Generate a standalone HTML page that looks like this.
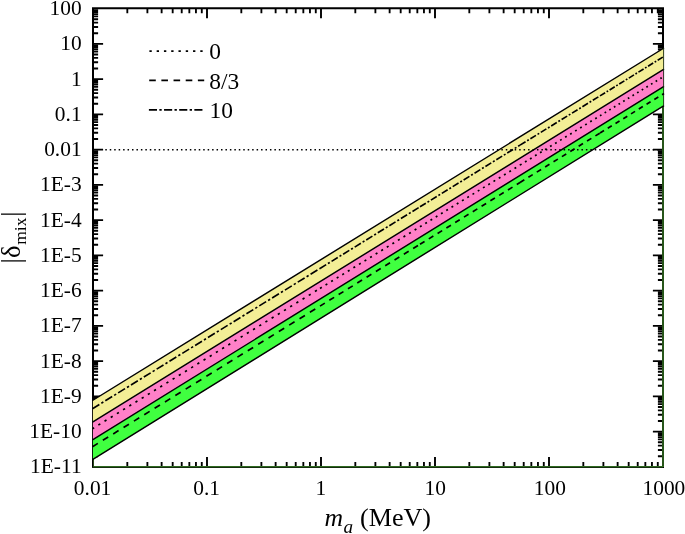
<!DOCTYPE html>
<html><head><meta charset="utf-8"><title>plot</title>
<style>html,body{margin:0;padding:0;background:#fff}svg{display:block}text{font-family:"Liberation Serif",serif;fill:#000}</style></head><body>
<svg width="685" height="534" viewBox="0 0 685 534">
<rect width="685" height="534" fill="#fff"/>
<path d="M207.00 8.25v10.1M207.00 467.0v-10.1M321.00 8.25v10.1M321.00 467.0v-10.1M435.00 8.25v10.1M435.00 467.0v-10.1M549.00 8.25v10.1M549.00 467.0v-10.1M93.0 43.85h10.1M663.0 43.85h-10.1M93.0 79.10h10.1M663.0 79.10h-10.1M93.0 114.35h10.1M663.0 114.35h-10.1M93.0 149.60h10.1M663.0 149.60h-10.1M93.0 184.85h10.1M663.0 184.85h-10.1M93.0 220.10h10.1M663.0 220.10h-10.1M93.0 255.35h10.1M663.0 255.35h-10.1M93.0 290.60h10.1M663.0 290.60h-10.1M93.0 325.85h10.1M663.0 325.85h-10.1M93.0 361.10h10.1M663.0 361.10h-10.1M93.0 396.35h10.1M663.0 396.35h-10.1M93.0 431.60h10.1M663.0 431.60h-10.1" stroke="#000" stroke-width="1.9" fill="none"/>
<path d="M127.32 8.25v5.1M127.32 467.0v-5.1M147.39 8.25v5.1M147.39 467.0v-5.1M161.63 8.25v5.1M161.63 467.0v-5.1M172.68 8.25v5.1M172.68 467.0v-5.1M181.71 8.25v5.1M181.71 467.0v-5.1M189.34 8.25v5.1M189.34 467.0v-5.1M195.95 8.25v5.1M195.95 467.0v-5.1M201.78 8.25v5.1M201.78 467.0v-5.1M241.32 8.25v5.1M241.32 467.0v-5.1M261.39 8.25v5.1M261.39 467.0v-5.1M275.63 8.25v5.1M275.63 467.0v-5.1M286.68 8.25v5.1M286.68 467.0v-5.1M295.71 8.25v5.1M295.71 467.0v-5.1M303.34 8.25v5.1M303.34 467.0v-5.1M309.95 8.25v5.1M309.95 467.0v-5.1M315.78 8.25v5.1M315.78 467.0v-5.1M355.32 8.25v5.1M355.32 467.0v-5.1M375.39 8.25v5.1M375.39 467.0v-5.1M389.63 8.25v5.1M389.63 467.0v-5.1M400.68 8.25v5.1M400.68 467.0v-5.1M409.71 8.25v5.1M409.71 467.0v-5.1M417.34 8.25v5.1M417.34 467.0v-5.1M423.95 8.25v5.1M423.95 467.0v-5.1M429.78 8.25v5.1M429.78 467.0v-5.1M469.32 8.25v5.1M469.32 467.0v-5.1M489.39 8.25v5.1M489.39 467.0v-5.1M503.63 8.25v5.1M503.63 467.0v-5.1M514.68 8.25v5.1M514.68 467.0v-5.1M523.71 8.25v5.1M523.71 467.0v-5.1M531.34 8.25v5.1M531.34 467.0v-5.1M537.95 8.25v5.1M537.95 467.0v-5.1M543.78 8.25v5.1M543.78 467.0v-5.1M583.32 8.25v5.1M583.32 467.0v-5.1M603.39 8.25v5.1M603.39 467.0v-5.1M617.63 8.25v5.1M617.63 467.0v-5.1M628.68 8.25v5.1M628.68 467.0v-5.1M637.71 8.25v5.1M637.71 467.0v-5.1M645.34 8.25v5.1M645.34 467.0v-5.1M651.95 8.25v5.1M651.95 467.0v-5.1M657.78 8.25v5.1M657.78 467.0v-5.1M93.0 33.24h5.1M663.0 33.24h-5.1M93.0 27.03h5.1M663.0 27.03h-5.1M93.0 22.63h5.1M663.0 22.63h-5.1M93.0 19.21h5.1M663.0 19.21h-5.1M93.0 16.42h5.1M663.0 16.42h-5.1M93.0 14.06h5.1M663.0 14.06h-5.1M93.0 12.02h5.1M663.0 12.02h-5.1M93.0 10.21h5.1M663.0 10.21h-5.1M93.0 68.49h5.1M663.0 68.49h-5.1M93.0 62.28h5.1M663.0 62.28h-5.1M93.0 57.88h5.1M663.0 57.88h-5.1M93.0 54.46h5.1M663.0 54.46h-5.1M93.0 51.67h5.1M663.0 51.67h-5.1M93.0 49.31h5.1M663.0 49.31h-5.1M93.0 47.27h5.1M663.0 47.27h-5.1M93.0 45.46h5.1M663.0 45.46h-5.1M93.0 103.74h5.1M663.0 103.74h-5.1M93.0 97.53h5.1M663.0 97.53h-5.1M93.0 93.13h5.1M663.0 93.13h-5.1M93.0 89.71h5.1M663.0 89.71h-5.1M93.0 86.92h5.1M663.0 86.92h-5.1M93.0 84.56h5.1M663.0 84.56h-5.1M93.0 82.52h5.1M663.0 82.52h-5.1M93.0 80.71h5.1M663.0 80.71h-5.1M93.0 138.99h5.1M663.0 138.99h-5.1M93.0 132.78h5.1M663.0 132.78h-5.1M93.0 128.38h5.1M663.0 128.38h-5.1M93.0 124.96h5.1M663.0 124.96h-5.1M93.0 122.17h5.1M663.0 122.17h-5.1M93.0 119.81h5.1M663.0 119.81h-5.1M93.0 117.77h5.1M663.0 117.77h-5.1M93.0 115.96h5.1M663.0 115.96h-5.1M93.0 174.24h5.1M663.0 174.24h-5.1M93.0 168.03h5.1M663.0 168.03h-5.1M93.0 163.63h5.1M663.0 163.63h-5.1M93.0 160.21h5.1M663.0 160.21h-5.1M93.0 157.42h5.1M663.0 157.42h-5.1M93.0 155.06h5.1M663.0 155.06h-5.1M93.0 153.02h5.1M663.0 153.02h-5.1M93.0 151.21h5.1M663.0 151.21h-5.1M93.0 209.49h5.1M663.0 209.49h-5.1M93.0 203.28h5.1M663.0 203.28h-5.1M93.0 198.88h5.1M663.0 198.88h-5.1M93.0 195.46h5.1M663.0 195.46h-5.1M93.0 192.67h5.1M663.0 192.67h-5.1M93.0 190.31h5.1M663.0 190.31h-5.1M93.0 188.27h5.1M663.0 188.27h-5.1M93.0 186.46h5.1M663.0 186.46h-5.1M93.0 244.74h5.1M663.0 244.74h-5.1M93.0 238.53h5.1M663.0 238.53h-5.1M93.0 234.13h5.1M663.0 234.13h-5.1M93.0 230.71h5.1M663.0 230.71h-5.1M93.0 227.92h5.1M663.0 227.92h-5.1M93.0 225.56h5.1M663.0 225.56h-5.1M93.0 223.52h5.1M663.0 223.52h-5.1M93.0 221.71h5.1M663.0 221.71h-5.1M93.0 279.99h5.1M663.0 279.99h-5.1M93.0 273.78h5.1M663.0 273.78h-5.1M93.0 269.38h5.1M663.0 269.38h-5.1M93.0 265.96h5.1M663.0 265.96h-5.1M93.0 263.17h5.1M663.0 263.17h-5.1M93.0 260.81h5.1M663.0 260.81h-5.1M93.0 258.77h5.1M663.0 258.77h-5.1M93.0 256.96h5.1M663.0 256.96h-5.1M93.0 315.24h5.1M663.0 315.24h-5.1M93.0 309.03h5.1M663.0 309.03h-5.1M93.0 304.63h5.1M663.0 304.63h-5.1M93.0 301.21h5.1M663.0 301.21h-5.1M93.0 298.42h5.1M663.0 298.42h-5.1M93.0 296.06h5.1M663.0 296.06h-5.1M93.0 294.02h5.1M663.0 294.02h-5.1M93.0 292.21h5.1M663.0 292.21h-5.1M93.0 350.49h5.1M663.0 350.49h-5.1M93.0 344.28h5.1M663.0 344.28h-5.1M93.0 339.88h5.1M663.0 339.88h-5.1M93.0 336.46h5.1M663.0 336.46h-5.1M93.0 333.67h5.1M663.0 333.67h-5.1M93.0 331.31h5.1M663.0 331.31h-5.1M93.0 329.27h5.1M663.0 329.27h-5.1M93.0 327.46h5.1M663.0 327.46h-5.1M93.0 385.74h5.1M663.0 385.74h-5.1M93.0 379.53h5.1M663.0 379.53h-5.1M93.0 375.13h5.1M663.0 375.13h-5.1M93.0 371.71h5.1M663.0 371.71h-5.1M93.0 368.92h5.1M663.0 368.92h-5.1M93.0 366.56h5.1M663.0 366.56h-5.1M93.0 364.52h5.1M663.0 364.52h-5.1M93.0 362.71h5.1M663.0 362.71h-5.1M93.0 420.99h5.1M663.0 420.99h-5.1M93.0 414.78h5.1M663.0 414.78h-5.1M93.0 410.38h5.1M663.0 410.38h-5.1M93.0 406.96h5.1M663.0 406.96h-5.1M93.0 404.17h5.1M663.0 404.17h-5.1M93.0 401.81h5.1M663.0 401.81h-5.1M93.0 399.77h5.1M663.0 399.77h-5.1M93.0 397.96h5.1M663.0 397.96h-5.1M93.0 456.24h5.1M663.0 456.24h-5.1M93.0 450.03h5.1M663.0 450.03h-5.1M93.0 445.63h5.1M663.0 445.63h-5.1M93.0 442.21h5.1M663.0 442.21h-5.1M93.0 439.42h5.1M663.0 439.42h-5.1M93.0 437.06h5.1M663.0 437.06h-5.1M93.0 435.02h5.1M663.0 435.02h-5.1M93.0 433.21h5.1M663.0 433.21h-5.1" stroke="#000" stroke-width="1.85" fill="none"/>
<path d="M93.0 468.0V8.25H663.0V53.25" stroke="#000" stroke-width="2" fill="none" stroke-linejoin="miter"/>
<path d="M663.0 98.25V467.0" stroke="#27561a" stroke-width="2" fill="none"/>
<path d="M92.0 467.5H664.0" stroke="#142c0e" stroke-width="1" fill="none"/>
<path d="M93.0 466.5H664.0" stroke="#2e6a20" stroke-width="1" fill="none"/>
<path d="M93.5 458V467.0" stroke="#2a4a1c" stroke-width="1" fill="none"/>
<path d="M663.0 467.0h1v1h-1z" fill="#000"/>
<path d="M92.9 400.5L664.0 48.0V69.2L92.9 422.2Z" fill="#f3ee96"/>
<path d="M92.9 422.2L664.0 69.2V86.3L92.9 439.9Z" fill="#ff80c8"/>
<path d="M92.9 439.9L664.0 86.3V105.6L92.9 459.6Z" fill="#40ff40"/>
<path d="M92.5 400.5L664.0 48.0M92.5 422.2L664.0 69.2M92.5 439.9L664.0 86.3M92.5 459.6L664.0 105.6" stroke="#000" stroke-width="1.45" fill="none"/>
<path d="M663.6 47.7V106.1" stroke="#1a2a12" stroke-width="0.9" fill="none"/>
<path d="M92.5 408.70L320 268.46" stroke="#000" stroke-width="1.65" stroke-dasharray="8.05 2.34 2.34 2.34" fill="none"/>
<path d="M320 268.46L420 206.81" stroke="#000" stroke-width="1.65" stroke-dasharray="7.25 2.11 2.11 2.11" fill="none"/>
<path d="M420 206.81L520 145.17" stroke="#000" stroke-width="1.65" stroke-dasharray="6.84 1.99 1.99 1.99" fill="none"/>
<path d="M520 145.17L600 95.85" stroke="#000" stroke-width="1.65" stroke-dasharray="6.52 1.90 1.90 1.90" fill="none"/>
<path d="M600 95.85L664.0 56.40" stroke="#000" stroke-width="1.65" stroke-dasharray="6.04 1.75 1.75 1.75" fill="none"/>
<path d="M92.5 428.70L320 288.42" stroke="#000" stroke-width="1.7" stroke-dasharray="2.30 4.97" stroke-dashoffset="0.4" fill="none"/>
<path d="M320 288.42L420 226.76" stroke="#000" stroke-width="1.7" stroke-dasharray="2.07 4.47" fill="none"/>
<path d="M420 226.76L520 165.09" stroke="#000" stroke-width="1.7" stroke-dasharray="1.95 4.22" fill="none"/>
<path d="M520 165.09L600 115.76" stroke="#000" stroke-width="1.7" stroke-dasharray="1.86 4.03" fill="none"/>
<path d="M600 115.76L664.0 76.30" stroke="#000" stroke-width="1.7" stroke-dasharray="1.72 3.73" fill="none"/>
<path d="M92.5 446.70L320 306.10" stroke="#000" stroke-width="1.7" stroke-dasharray="6.30 5.87" fill="none"/>
<path d="M320 306.10L420 244.30" stroke="#000" stroke-width="1.7" stroke-dasharray="5.67 5.28" fill="none"/>
<path d="M420 244.30L520 182.50" stroke="#000" stroke-width="1.7" stroke-dasharray="5.35 4.99" fill="none"/>
<path d="M520 182.50L600 133.05" stroke="#000" stroke-width="1.7" stroke-dasharray="5.10 4.75" fill="none"/>
<path d="M600 133.05L664.0 93.50" stroke="#000" stroke-width="1.7" stroke-dasharray="4.72 4.40" fill="none"/>
<path d="M105.3 149.75H662" stroke="#000" stroke-width="1.35" stroke-dasharray="1.5 2.95" fill="none"/>
<path d="M149.4 51.1H203" stroke="#000" stroke-width="1.7" stroke-dasharray="2.35 4.92" fill="none"/>
<path d="M149.2 80.4H204.2" stroke="#000" stroke-width="1.6" stroke-dasharray="6.6 5.57" fill="none"/>
<path d="M148.9 109.8H202.6" stroke="#000" stroke-width="1.8" stroke-dasharray="8.1 2.35 2.35 2.35" fill="none"/>
<text transform="translate(209.20 59.25) scale(0.985 1)" font-size="23.8px" text-anchor="start">0</text>
<text transform="translate(209.20 88.60) scale(0.985 1)" font-size="23.8px" text-anchor="start">8/3</text>
<text transform="translate(209.50 118.00) scale(0.985 1)" font-size="23.8px" text-anchor="start">10</text>
<text transform="translate(81.60 15.20) scale(1.06 1)" font-size="20.2px" text-anchor="end">100</text>
<text transform="translate(81.60 50.45) scale(1.06 1)" font-size="20.2px" text-anchor="end">10</text>
<text transform="translate(81.60 85.70) scale(1.06 1)" font-size="20.2px" text-anchor="end">1</text>
<text transform="translate(81.60 120.95) scale(1.06 1)" font-size="20.2px" text-anchor="end">0.1</text>
<text transform="translate(81.60 156.20) scale(1.06 1)" font-size="20.2px" text-anchor="end">0.01</text>
<text transform="translate(81.60 191.45) scale(1.06 1)" font-size="20.2px" text-anchor="end">1E-3</text>
<text transform="translate(81.60 226.70) scale(1.06 1)" font-size="20.2px" text-anchor="end">1E-4</text>
<text transform="translate(81.60 261.95) scale(1.06 1)" font-size="20.2px" text-anchor="end">1E-5</text>
<text transform="translate(81.60 297.20) scale(1.06 1)" font-size="20.2px" text-anchor="end">1E-6</text>
<text transform="translate(81.60 332.45) scale(1.06 1)" font-size="20.2px" text-anchor="end">1E-7</text>
<text transform="translate(81.60 367.70) scale(1.06 1)" font-size="20.2px" text-anchor="end">1E-8</text>
<text transform="translate(81.60 402.95) scale(1.06 1)" font-size="20.2px" text-anchor="end">1E-9</text>
<text transform="translate(81.60 438.20) scale(1.06 1)" font-size="20.2px" text-anchor="end">1E-10</text>
<text transform="translate(81.60 473.45) scale(1.06 1)" font-size="20.2px" text-anchor="end">1E-11</text>
<text transform="translate(92.60 494.60) scale(1.06 1)" font-size="20.2px" text-anchor="middle">0.01</text>
<text transform="translate(206.60 494.60) scale(1.06 1)" font-size="20.2px" text-anchor="middle">0.1</text>
<text transform="translate(320.90 494.60) scale(1.06 1)" font-size="20.2px" text-anchor="middle">1</text>
<text transform="translate(435.30 494.60) scale(1.06 1)" font-size="20.2px" text-anchor="middle">10</text>
<text transform="translate(549.90 494.60) scale(1.06 1)" font-size="20.2px" text-anchor="middle">100</text>
<text transform="translate(663.90 494.60) scale(1.06 1)" font-size="20.2px" text-anchor="middle">1000</text>
<text transform="translate(324.60 526.00) scale(1.05 1)" font-size="24.5px" text-anchor="start" font-style="italic">m</text>
<text transform="translate(343.60 533.20) scale(1.05 1)" font-size="18.3px" text-anchor="start" font-style="italic">a</text>
<text x="360" y="526" font-size="25px" textLength="71" lengthAdjust="spacingAndGlyphs">(MeV)</text>
<g transform="translate(19.5 263) rotate(-90)">
<text transform="translate(-0.6 0) scale(1 1.07)" font-size="26px">|</text>
<text x="5.1" y="0" font-size="26.8px">δ</text>
<text x="18.2" y="6.3" font-size="17.5px">mix</text>
<text transform="translate(46.2 0) scale(1 1.07)" font-size="26px">|</text>
</g>
</svg></body></html>
